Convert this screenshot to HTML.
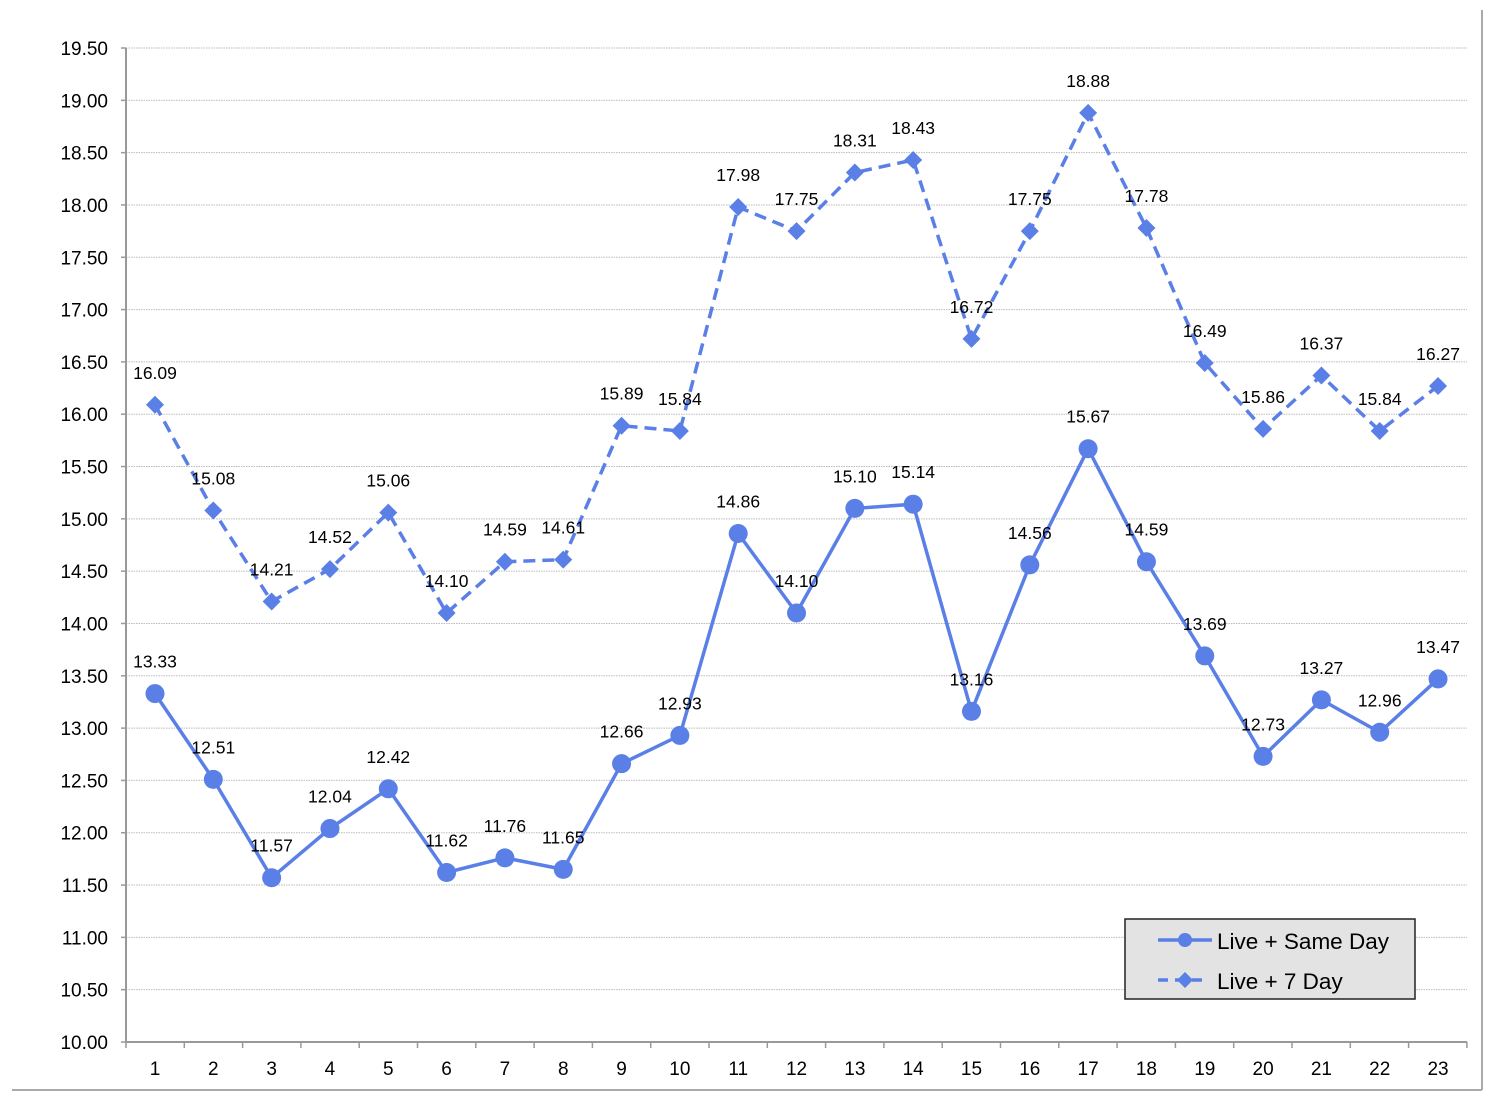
<!DOCTYPE html><html><head><style>body{margin:0;background:#fff}svg{display:block;font-family:"Liberation Sans",Arial,sans-serif}</style></head><body>
<svg id="c" width="1495" height="1106" xmlns="http://www.w3.org/2000/svg"></svg>
<script>
const s=document.getElementById('c');let h='';
const a=[13.33,12.51,11.57,12.04,12.42,11.62,11.76,11.65,12.66,12.93,14.86,14.10,15.10,15.14,13.16,14.56,15.67,14.59,13.69,12.73,13.27,12.96,13.47];
const b=[16.09,15.08,14.21,14.52,15.06,14.10,14.59,14.61,15.89,15.84,17.98,17.75,18.31,18.43,16.72,17.75,18.88,17.78,16.49,15.86,16.37,15.84,16.27];
const X=i=>155+i*58.32, Y=v=>1042-(v-10)*104.63;
h+='<line x1="1482" x2="1482" y1="10" y2="1090" stroke="#aaa" stroke-width="2"/><line x1="12" x2="1482" y1="1090" y2="1090" stroke="#aaa" stroke-width="2"/>';
for(let k=0;k<=19;k++){const v=10+k*0.5,y=Y(v);
 if(k>0)h+=`<line x1="126" x2="1467" y1="${y}" y2="${y}" stroke="#bbb" stroke-dasharray="1.5 1"/>`;
 h+=`<line x1="121" x2="126" y1="${y}" y2="${y}" stroke="#999" stroke-width="1.5"/>`;
 h+=`<text x="108" y="${y+7}" font-size="19" text-anchor="end">${v.toFixed(2)}</text>`;}
h+='<line x1="126" x2="126" y1="48" y2="1042" stroke="#999" stroke-width="2"/><line x1="126" x2="1467" y1="1042" y2="1042" stroke="#999" stroke-width="2"/>';
for(let k=0;k<=23;k++){const x=126+k*58.3;h+=`<line x1="${x}" x2="${x}" y1="1042" y2="1048" stroke="#999" stroke-width="1.5"/>`;}
for(let i=0;i<23;i++)h+=`<text x="${X(i)}" y="1075" font-size="19" text-anchor="middle">${i+1}</text>`;
const c='#5a7fe6';
h+=`<polyline fill="none" stroke="${c}" stroke-width="3.5" points="${a.map((v,i)=>X(i)+','+Y(v)).join(' ')}"/>`;
h+=`<polyline fill="none" stroke="${c}" stroke-width="3.5" stroke-dasharray="12 7" points="${b.map((v,i)=>X(i)+','+Y(v)).join(' ')}"/>`;
a.forEach((v,i)=>{h+=`<circle cx="${X(i)}" cy="${Y(v)}" r="9.5" fill="${c}"/>`;h+=`<text x="${X(i)}" y="${Y(v)-26}" font-size="17.5" text-anchor="middle">${v.toFixed(2)}</text>`;});
b.forEach((v,i)=>{const x=X(i),y=Y(v);h+=`<polygon points="${x},${y-9} ${x+9},${y} ${x},${y+9} ${x-9},${y}" fill="${c}"/>`;h+=`<text x="${x}" y="${y-26}" font-size="17.5" text-anchor="middle">${v.toFixed(2)}</text>`;});
h+='<rect x="1125" y="919" width="290" height="80" fill="#e3e3e3" stroke="#222" stroke-width="1.5"/>';
h+=`<line x1="1158" x2="1212" y1="940" y2="940" stroke="${c}" stroke-width="3.5"/><circle cx="1185" cy="940" r="7" fill="${c}"/>`;
h+=`<line x1="1158" x2="1208" y1="980" y2="980" stroke="${c}" stroke-width="3.5" stroke-dasharray="10 7"/><polygon points="1185,972 1193,980 1185,988 1177,980" fill="${c}"/>`;
h+='<text x="1217" y="949" font-size="22.5">Live + Same Day</text><text x="1217" y="989" font-size="22.5">Live + 7 Day</text>';
s.innerHTML=h;
</script></body></html>
